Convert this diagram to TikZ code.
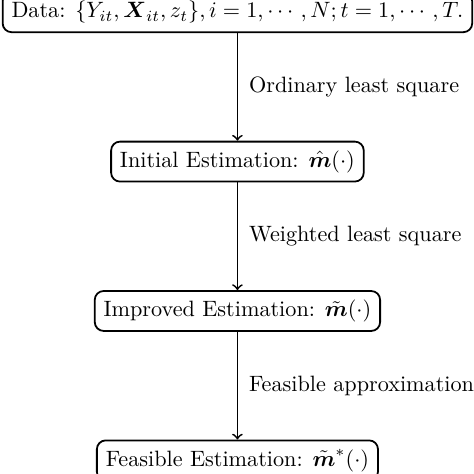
\documentclass[tikz,border=0pt]{standalone}
\usepackage{amsmath, amssymb}
\usepackage{tikz}
\usetikzlibrary{matrix,arrows}

\begin{document}
\begin{tikzpicture}
  \matrix (m) [matrix of nodes, row sep=48.5pt, nodes={draw, thick, rounded corners=4pt, inner sep=4pt}]
  {
Data: $\{Y_{it}, \boldsymbol{X}_{it}, z_t\}, i=1,\cdots,N; t=1,\cdots,T.$ \\
Initial Estimation: $\hat{\boldsymbol{m}}(\cdot)$ \\
Improved Estimation: $\tilde{\boldsymbol{m}}(\cdot)$ \\
Feasible Estimation: $\tilde{\boldsymbol{m}}^{*}(\cdot)$ \\ };
  \path[->, thick]
  (m-1-1) edge node [right, xshift=1.5pt] {Ordinary least square} (m-2-1)
  (m-2-1) edge node [right, xshift=1.5pt] {Weighted least square} (m-3-1)
  (m-3-1) edge node [right, xshift=1.5pt] {Feasible approximation} (m-4-1);
  % crop as in the reference
  \pgfresetboundingbox
  \useasboundingbox ([xshift=-0.8pt, yshift=5.5pt]m-1-1.west) rectangle ([xshift=0.4pt, yshift=-6pt]m-4-1.center -| m-1-1.east);
\end{tikzpicture}
\end{document}
